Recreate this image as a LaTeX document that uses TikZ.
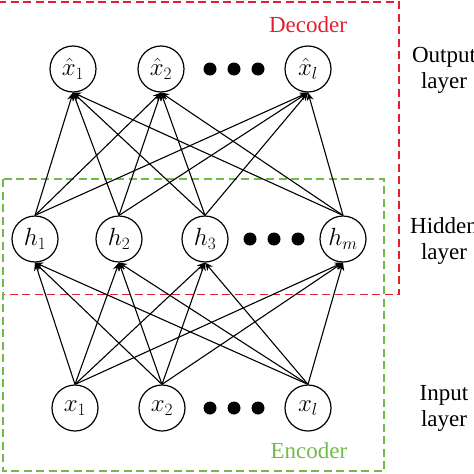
\documentclass[tikz,border=0pt]{standalone}
\usepackage{fontspec}
\setmainfont{Liberation Serif}
\usetikzlibrary{arrows.meta}
\definecolor{decred}{RGB}{228,32,48}
\definecolor{encgreen}{RGB}{112,188,72}
\begin{document}
\begin{tikzpicture}[x=1pt,y=-1pt,
  neuron/.style={circle,draw,line width=1.2pt,minimum size=46pt,inner sep=0pt,font=\fontsize{26}{28}\selectfont},
  dotmark/.style={circle,fill=black,minimum size=13pt,inner sep=0pt},
  conn/.style={line width=1.1pt,-{Stealth[length=8pt,width=7pt]}},
  boxline/.style={line width=1.2pt,dash pattern=on 8pt off 4.5pt},
  layerlabel/.style={align=center,font=\fontsize{23}{26}\selectfont},
  partlabel/.style={font=\fontsize{23}{26}\selectfont}]
\useasboundingbox (0,0) rectangle (474,474);
\clip (0,0) rectangle (474,474);
% boxes
\draw[boxline,decred] (-2,2) -- (399,2) -- (399,294.5) -- (3,294.5);
\draw[boxline,encgreen] (3,179) rectangle (384,471);
% output layer
\node[neuron] (o1) at (73,69) {$\hat{x}_1$};
\node[neuron] (o2) at (161,69) {$\hat{x}_2$};
\node[neuron] (ol) at (308,69) {$\hat{x}_l$};
\node[dotmark] (od1) at (210,69) {};
\node[dotmark] (od2) at (234,69) {};
\node[dotmark] (od3) at (258,69) {};
% hidden layer
\node[neuron] (h1) at (35,239) {$h_1$};
\node[neuron] (h2) at (119,239) {$h_2$};
\node[neuron] (h3) at (205,239) {$h_3$};
\node[neuron] (hm) at (343,239) {$h_m$};
\node[dotmark] (hd1) at (250,239) {};
\node[dotmark] (hd2) at (274,239) {};
\node[dotmark] (hd3) at (298,239) {};
% input layer
\node[neuron] (x1) at (75,408) {$x_1$};
\node[neuron] (x2) at (162,408) {$x_2$};
\node[neuron] (xl) at (308,408) {$x_l$};
\node[dotmark] (xd1) at (210,408) {};
\node[dotmark] (xd2) at (234,408) {};
\node[dotmark] (xd3) at (258,408) {};
% connections
\foreach \s in {x1,x2,xl}
  \foreach \t in {h1,h2,h3,hm}
    \draw[conn] (\s.north) -- (\t.south);
\foreach \s in {h1,h2,h3,hm}
  \foreach \t in {o1,o2,ol}
    \draw[conn] (\s.north) -- (\t.south);
% labels
\node[partlabel,text=decred] (dec) at (308,25) {Decoder};
\node[partlabel,text=encgreen] (enc) at (309,451) {Encoder};
\node[layerlabel] (lo) at (444,70) {Output\\layer};
\node[layerlabel] (lh) at (444,241) {Hidden\\layer};
\node[layerlabel] (li) at (444,408) {Input\\layer};
\end{tikzpicture}
\end{document}
